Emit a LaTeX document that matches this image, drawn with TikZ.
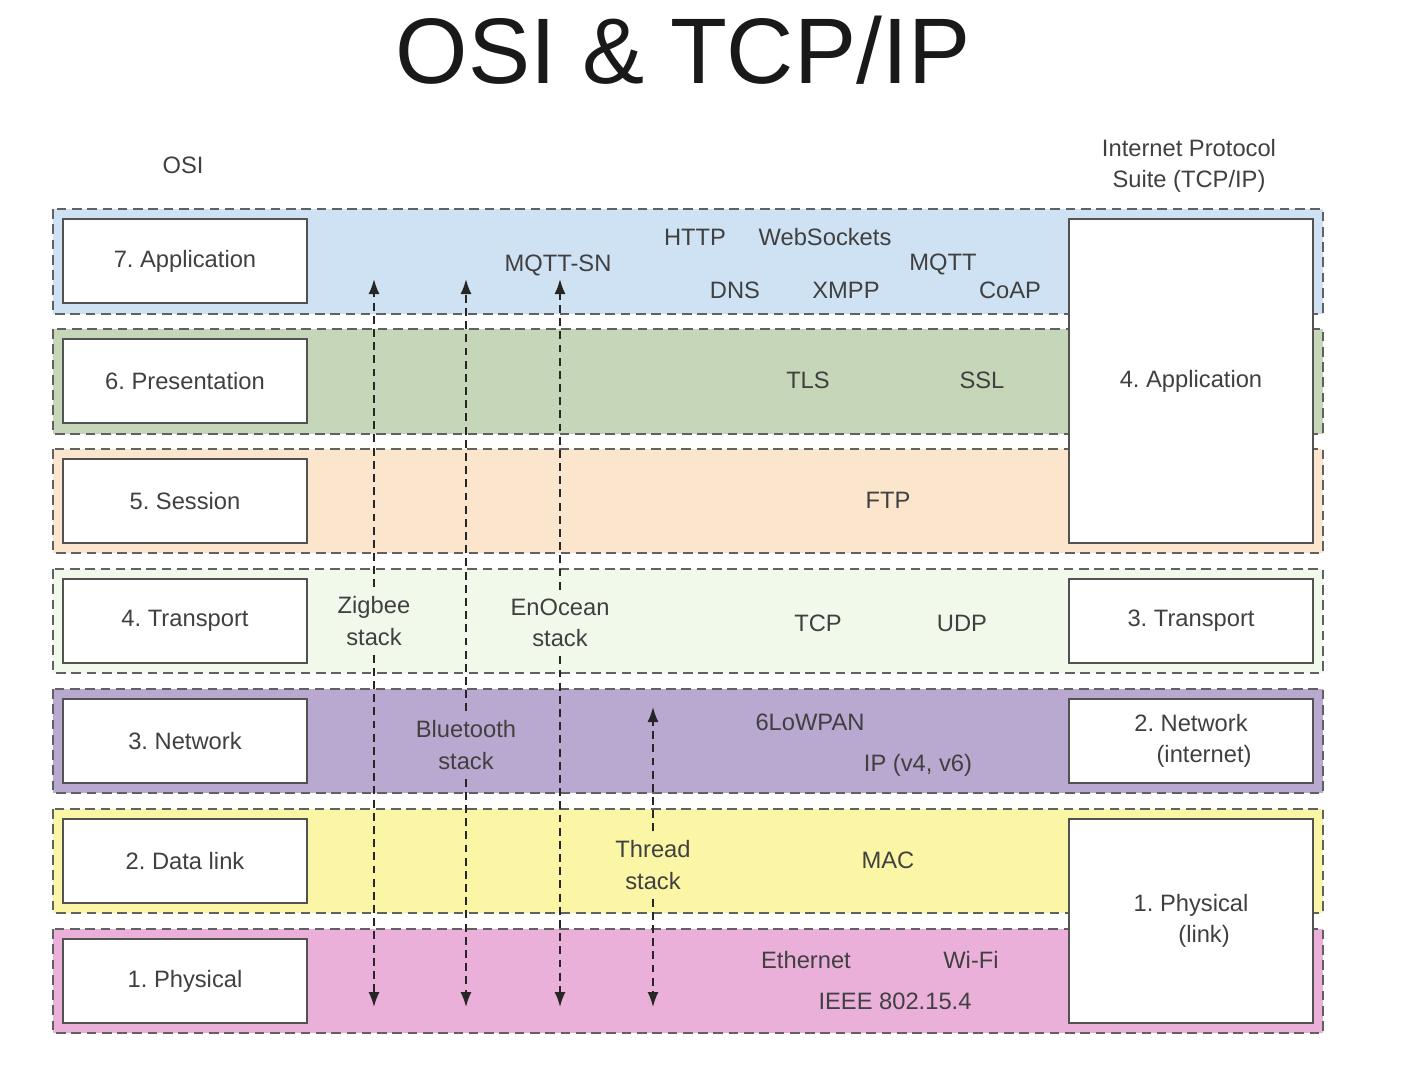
\documentclass[tikz,border=0pt]{standalone}
\usepackage{fontspec}
\setmainfont{Liberation Sans}
\frenchspacing
\usetikzlibrary{arrows.meta}
\definecolor{applblue}{HTML}{CFE2F3}
\definecolor{presgreen}{HTML}{C6D7B9}
\definecolor{sessorange}{HTML}{FCE5CD}
\definecolor{transgreen}{HTML}{F1FAEA}
\definecolor{netpurple}{HTML}{B9A8CF}
\definecolor{linkyellow}{HTML}{FBF6A6}
\definecolor{physpink}{HTML}{EBB0DA}

\begin{document}
\begin{tikzpicture}[x=0.2mm, y=-0.2mm,
	band/.style={draw=black!62, line width=1.3pt, dash pattern=on 5.5pt off 3.2pt},
	layerbox/.style={draw=black!68, fill=white, line width=1.1pt, minimum width=48.8mm, minimum height=16.8mm, text=black!75, font=\fontsize{13.5}{18}\selectfont, align=center},
	proto/.style={text=black!75, font=\fontsize{13.5}{18}\selectfont, align=center},
	stack/.style={proto, inner sep=5pt},
	updown/.style={draw=black!85, line width=1pt, dash pattern=on 4.5pt off 3pt, -{Latex[length=3mm,width=2.2mm]}}]
		%%%%% START %%%%%
		\useasboundingbox (0, 0) rectangle (1416, 1066);
		
		\node[text=black!90, font=\fontsize{53}{60}\selectfont] (title) at (683, 50) {OSI \& TCP/IP};
		\node[proto] (osihead) at (183, 165) {OSI};
		\node[proto] (tcphead) at (1189, 166) {Internet Protocol\\Suite (TCP/IP)};
		
		% layer bands
		\draw[band, fill=applblue] (53, 209) rectangle (1323, 314);
		\draw[band, fill=presgreen] (53, 329) rectangle (1323, 434);
		\draw[band, fill=sessorange] (53, 449) rectangle (1323, 553);
		\draw[band, fill=transgreen] (53, 569) rectangle (1323, 673);
		\draw[band, fill=netpurple] (53, 689) rectangle (1323, 793);
		\draw[band, fill=linkyellow] (53, 809) rectangle (1323, 913);
		\draw[band, fill=physpink] (53, 929) rectangle (1323, 1033);
		
		% OSI layers
		\node[layerbox] (osi7) at (185, 261) {7. Application};
		\node[layerbox] (osi6) at (185, 381) {6. Presentation};
		\node[layerbox] (osi5) at (185, 501) {5. Session};
		\node[layerbox] (osi4) at (185, 621) {4. Transport};
		\node[layerbox] (osi3) at (185, 741) {3. Network};
		\node[layerbox] (osi2) at (185, 861) {2. Data link};
		\node[layerbox] (osi1) at (185, 981) {1. Physical};
		
		% TCP/IP layers
		\node[layerbox, minimum height=64.8mm] (tcp4) at (1191, 381) {4. Application};
		\node[layerbox] (tcp3) at (1191, 621) {3. Transport};
		\node[layerbox] (tcp2) at (1191, 741) {2. Network\\\hspace*{1.1em}(internet)};
		\node[layerbox, minimum height=40.8mm] (tcp1) at (1191, 921) {1. Physical\\\hspace*{1.1em}(link)};
		
		% protocols
		\node[proto] (http) at (695, 237) {HTTP};
		\node[proto] (websock) at (825, 237) {WebSockets};
		\node[proto] (mqttsn) at (558, 265) {MQTT-SN};
		\node[proto] (mqtt) at (943, 264) {MQTT};
		\node[proto] (dns) at (735, 290) {DNS};
		\node[proto] (xmpp) at (846, 290) {XMPP};
		\node[proto] (coap) at (1010, 290) {CoAP};
		\node[proto] (tls) at (808, 380) {TLS};
		\node[proto] (ssl) at (982, 380) {SSL};
		\node[proto] (ftp) at (888, 500) {FTP};
		\node[proto] (tcpp) at (818, 623) {TCP};
		\node[proto] (udp) at (962, 623) {UDP};
		\node[proto] (lowpan) at (810, 722) {6LoWPAN};
		\node[proto] (ip) at (918, 765) {IP (v4, v6)};
		\node[proto] (mac) at (888, 860) {MAC};
		\node[proto] (ether) at (806, 960) {Ethernet};
		\node[proto] (wifi) at (971, 960) {Wi-Fi};
		\node[proto] (ieee) at (895, 1001) {IEEE 802.15.4};
		
		% stacks
		\node[stack] (zigbee) at (374, 621) {Zigbee\\stack};
		\node[stack] (bluetooth) at (466, 745) {Bluetooth\\stack};
		\node[stack] (enocean) at (560, 623) {EnOcean\\stack};
		\node[stack] (thread) at (653, 865) {Thread\\stack};
		
		\coordinate (zigtop) at (374, 279);
		\coordinate (zigbot) at (374, 1007);
		\coordinate (bluetop) at (466, 279);
		\coordinate (bluebot) at (466, 1007);
		\coordinate (enotop) at (560, 279);
		\coordinate (enobot) at (560, 1007);
		\coordinate (threadtop) at (653, 707);
		\coordinate (threadbot) at (653, 1007);
		
		\draw[updown] (zigbee.north) -- (zigtop);
		\draw[updown] (zigbee.south) -- (zigbot);
		\draw[updown] (bluetooth.north) -- (bluetop);
		\draw[updown] (bluetooth.south) -- (bluebot);
		\draw[updown] (enocean.north) -- (enotop);
		\draw[updown] (enocean.south) -- (enobot);
		\draw[updown] (thread.north) -- (threadtop);
		\draw[updown] (thread.south) -- (threadbot);
		%%%%% END %%%%%
\end{tikzpicture}
\end{document}
